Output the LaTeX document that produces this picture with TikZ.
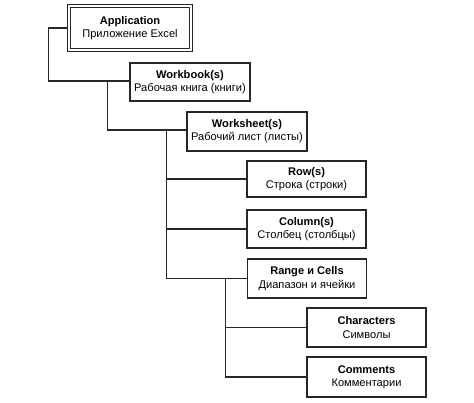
\documentclass[tikz,border=0pt]{standalone}
\usepackage{fontspec}
\setmainfont{Liberation Sans}
\usetikzlibrary{calc}
\begin{document}
\begin{tikzpicture}[x=1pt,y=-1pt,
  box/.style={draw=black!85, line width=1.5pt, fill=white, align=center,
    minimum width=119pt, minimum height=38pt, inner sep=0pt,
    font=\fontsize{11.1}{13.2}\selectfont},
  conn/.style={draw=black!85, line width=1.4pt}]
\useasboundingbox (0,0) rectangle (474,402);
\node[box, double, double distance=1.5pt, line width=1.5pt, minimum width=122pt, minimum height=44pt] (app) at (130,28) {\textbf{Application}\\Приложение Excel};
\node[box, minimum width=120pt] (wb) at (190,82) {\textbf{Workbook(s)}\\Рабочая книга (книги)};
\node[box, minimum width=120pt, minimum height=39pt] (ws) at (247,131.5) {\textbf{Worksheet(s)}\\Рабочий лист (листы)};
\node[box, minimum height=36pt] (row) at (306.5,179) {\textbf{Row(s)}\\Строка (строки)};
\node[box] (col) at (306.5,229) {\textbf{Column(s)}\\Столбец (столбцы)};
\node[box, minimum height=39pt] (rng) at (307,278.5) {\textbf{Range и Cells}\\Диапазон и ячейки};
\node[box, minimum height=39pt] (chr) at (366.5,327.5) {\textbf{Characters}\\Символы};
\node[box, minimum height=40pt] (cmt) at (366.5,377) {\textbf{Comments}\\Комментарии};
\coordinate (j0) at ($(app.west)+(-20,0)$);
\coordinate (j1) at ($(wb.west)+(-22,-1)$);
\coordinate (j2) at ($(ws.west)+(-20,-1.5)$);
\coordinate (j3) at ($(rng.west)+(-21,0)$);
\draw[conn] (app.west) -- (j0) |- ($(wb.west)+(0,-1)$);
\draw[conn] (j1) |- ($(ws.west)+(0,-1.5)$);
\draw[conn] (j2) |- (row.west);
\draw[conn] (j2) |- (col.west);
\draw[conn] (j2) |- (rng.west);
\draw[conn] (j3) |- (chr.west);
\draw[conn] (j3) |- (cmt.west);
\end{tikzpicture}
\end{document}
